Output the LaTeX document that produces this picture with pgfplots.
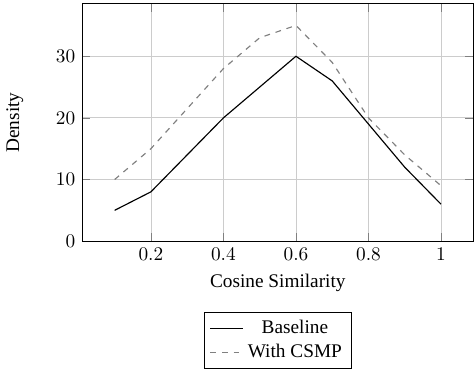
\documentclass[border=0pt]{standalone}
\usepackage{pgfplots}
\pgfplotsset{compat=1.18}
\usepackage{fontspec}
\setmainfont{Liberation Serif}
\begin{document}
\begin{tikzpicture}
\begin{axis}[
  scale only axis,
  width=203pt, height=123pt,
  xmin=0.01, xmax=1.09,
  ymin=0, ymax=38.5,
  xtick={0.2,0.4,0.6,0.8,1},
  ytick={0,10,20,30},
  grid=major,
  grid style={gray!40},
  xlabel={Cosine Similarity},
  ylabel={Density},
  ylabel style={yshift=10pt},
  legend style={at={(0.5,-0.30)}, anchor=north},
  legend cell align=center,
]
\addplot[black, semithick] coordinates {(0.1,5) (0.2,8) (0.4,20) (0.6,30) (0.7,26) (0.8,19) (0.9,12) (1,6)};
\addlegendentry{Baseline}
\addplot[gray, dashed, semithick] coordinates {(0.1,10) (0.2,15) (0.4,28) (0.5,33) (0.6,35) (0.7,29) (0.8,20) (0.9,14) (1,9)};
\addlegendentry{With CSMP}
\end{axis}
\path ([yshift=2pt]current axis.north);
\end{tikzpicture}
\end{document}
